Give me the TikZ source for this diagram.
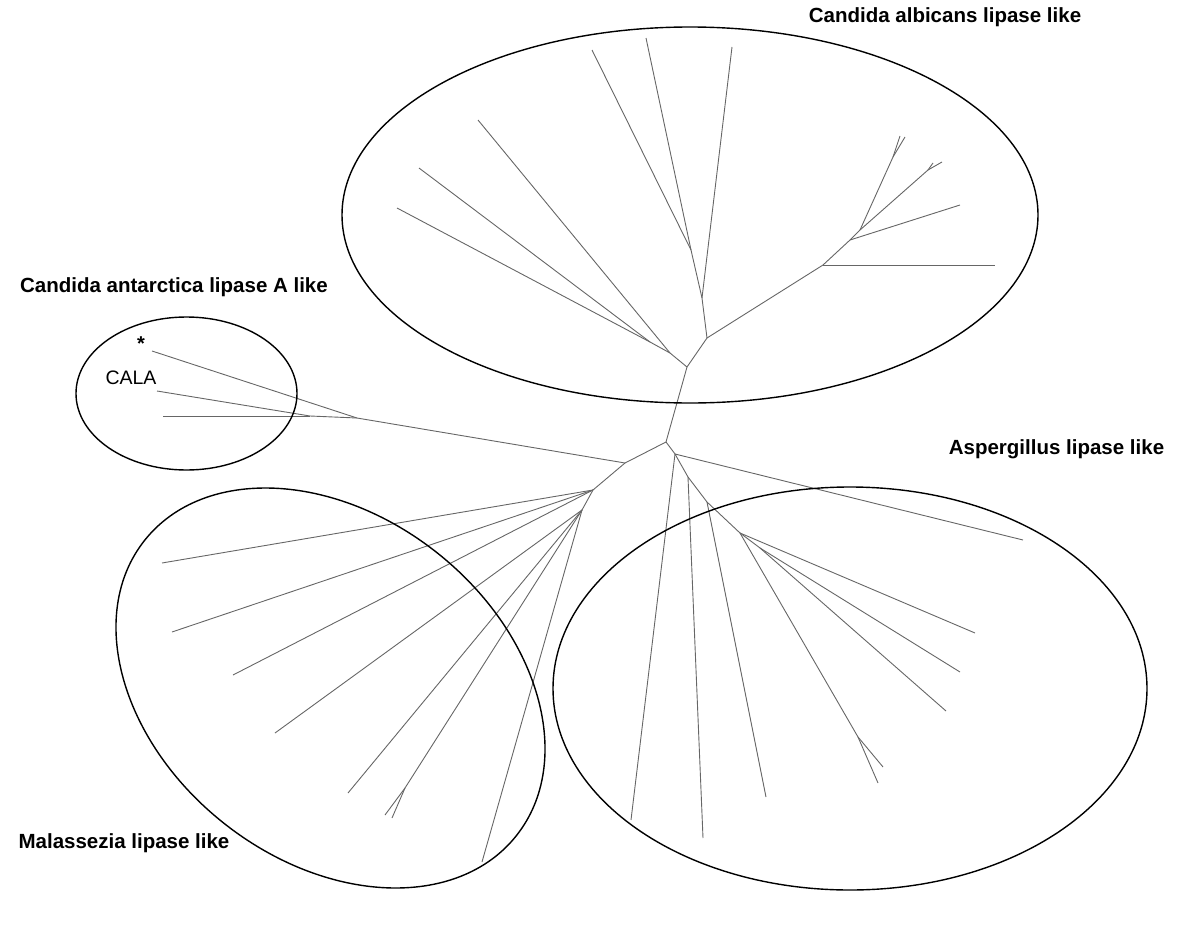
\documentclass[tikz,border=0pt]{standalone}
\usepackage{fontspec}
\setmainfont{Liberation Sans}
\begin{document}
\begin{tikzpicture}[x=1pt,y=-1pt,
  br/.style={draw=black!60,line width=0.9pt},
  grp/.style={draw=black,line width=1.4pt},
  lab/.style={inner sep=0pt,font=\fontsize{20.5}{23}\selectfont\bfseries}]
\useasboundingbox (0,0) rectangle (1200,926);
% internal nodes
\coordinate (R) at (666,442);
\coordinate (A) at (687,367);
\coordinate (B) at (707,338);
\coordinate (C) at (702,298);
\coordinate (D) at (691,250);
\coordinate (H) at (670,353);
\coordinate (I) at (650,342);
\coordinate (E) at (823,265);
\coordinate (F) at (850,240);
\coordinate (G) at (860,230);
\coordinate (G1) at (928,170);
\coordinate (G2) at (893,157);
\coordinate (L) at (625,463);
\coordinate (K) at (357,418);
\coordinate (J) at (310,416);
\coordinate (M) at (593,490);
\coordinate (N) at (582,510);
\coordinate (O) at (405,788);
\coordinate (P) at (675,454);
\coordinate (Q) at (688,477);
\coordinate (S) at (707,502);
\coordinate (T) at (740,533);
\coordinate (U) at (760,548);
\coordinate (V) at (858,737);
% leaves
\coordinate (ca1) at (592,50);
\coordinate (ca2) at (646,38);
\coordinate (ca3) at (732,47);
\coordinate (ca4) at (478,120);
\coordinate (ca5) at (419,168);
\coordinate (ca6) at (397,208);
\coordinate (ca7) at (995,265);
\coordinate (ca8) at (960,205);
\coordinate (ca9) at (942,162);
\coordinate (ca10) at (933,163);
\coordinate (ca11) at (900,136);
\coordinate (ca12) at (905,137);
\coordinate (cl1) at (152,351);
\coordinate (cl2) at (157,391);
\coordinate (cl3) at (163,416);
\coordinate (m1) at (162,563);
\coordinate (m2) at (172,632);
\coordinate (m3) at (233,675);
\coordinate (m4) at (275,733);
\coordinate (m5) at (348,793);
\coordinate (m6) at (385,815);
\coordinate (m7) at (392,818);
\coordinate (m8) at (482,862);
\coordinate (as1) at (1023,540);
\coordinate (as2) at (631,820);
\coordinate (as3) at (703,838);
\coordinate (as4) at (766,797);
\coordinate (as5) at (975,633);
\coordinate (as6) at (960,672);
\coordinate (as7) at (946,711);
\coordinate (as8) at (883,767);
\coordinate (as9) at (878,783);
% tree
\draw[br] (R) -- (A) -- (B) -- (C) -- (D);
\draw[br] (D) -- (ca1); \draw[br] (D) -- (ca2); \draw[br] (C) -- (ca3);
\draw[br] (A) -- (H) -- (I); \draw[br] (H) -- (ca4);
\draw[br] (I) -- (ca5); \draw[br] (I) -- (ca6);
\draw[br] (B) -- (E) -- (F) -- (G) -- (G1);
\draw[br] (E) -- (ca7); \draw[br] (F) -- (ca8);
\draw[br] (G1) -- (ca9); \draw[br] (G1) -- (ca10);
\draw[br] (G) -- (G2); \draw[br] (G2) -- (ca11); \draw[br] (G2) -- (ca12);
\draw[br] (R) -- (L) -- (K) -- (J);
\draw[br] (K) -- (cl1); \draw[br] (J) -- (cl2); \draw[br] (J) -- (cl3);
\draw[br] (L) -- (M) -- (N) -- (O);
\draw[br] (M) -- (m1); \draw[br] (M) -- (m2); \draw[br] (M) -- (m3);
\draw[br] (N) -- (m4); \draw[br] (N) -- (m5); \draw[br] (N) -- (m8);
\draw[br] (O) -- (m6); \draw[br] (O) -- (m7);
\draw[br] (R) -- (P) -- (Q) -- (S) -- (T) -- (U);
\draw[br] (P) -- (as1); \draw[br] (P) -- (as2); \draw[br] (Q) -- (as3);
\draw[br] (S) -- (as4); \draw[br] (T) -- (as5);
\draw[br] (U) -- (as6); \draw[br] (U) -- (as7);
\draw[br] (T) -- (V); \draw[br] (V) -- (as8); \draw[br] (V) -- (as9);
% groups
\draw[grp] (690,215) ellipse [x radius=348, y radius=188];
\draw[grp] (186.5,393.5) ellipse [x radius=110.5, y radius=76.5];
\draw[grp] (850,688.5) ellipse [x radius=297, y radius=201.5];
\draw[grp,rotate around={-38.5:(330.5,688)}] (330.5,688) ellipse [x radius=237.4, y radius=172.2];
% labels
\node[lab] (lca) at (945,17) {Candida albicans lipase like};
\node[lab] (lcl) at (174,287) {Candida antarctica lipase A like};
\node[lab] (las) at (1056.5,449) {Aspergillus lipase like};
\node[lab] (lma) at (124,843) {Malassezia lipase like};
\node[inner sep=0pt,font=\fontsize{19.5}{22}\selectfont] (cala) at (131,378) {CALA};
\node[inner sep=0pt,font=\fontsize{20}{22}\selectfont\bfseries] (star) at (141,344) {*};
\end{tikzpicture}
\end{document}
